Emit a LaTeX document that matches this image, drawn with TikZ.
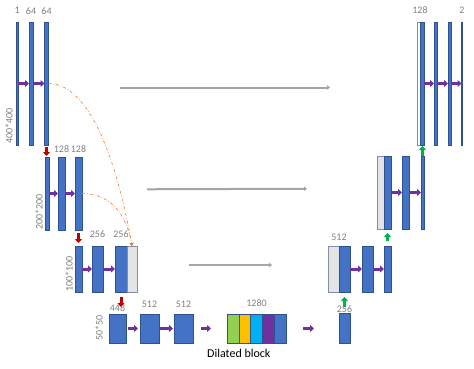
\documentclass[tikz,border=0pt]{standalone}
\usepackage{fontspec}
\setmainfont{Carlito}
\usetikzlibrary{arrows.meta,positioning}
\definecolor{barblue}{HTML}{4472C4}
\definecolor{barline}{HTML}{2F528F}
\definecolor{skipfill}{HTML}{E4E4E4}
\definecolor{skipline}{HTML}{7F8FA9}
\definecolor{convpurple}{HTML}{7030A0}
\definecolor{poolred}{HTML}{C00000}
\definecolor{upgreen}{HTML}{00B050}
\definecolor{copygray}{HTML}{A5A5A5}
\definecolor{cropor}{HTML}{ED7D31}
\definecolor{numgray}{HTML}{7F7F7F}
\definecolor{dlgreen}{HTML}{92D050}
\definecolor{dlyellow}{HTML}{FFC000}
\definecolor{dlcyan}{HTML}{00B0F0}
\begin{document}
\begin{tikzpicture}[
        x=1pt, y=1pt,
        bar/.style={draw=barline, fill=barblue, line width=0.5pt, anchor=south west, inner sep=0pt, outer sep=0pt},
        skipbar/.style={bar, draw=skipline, fill=skipfill},
        h1/.style={minimum height=123pt},
        h2/.style={minimum height=73pt},
        h3/.style={minimum height=46pt},
        h4/.style={minimum height=29pt},
        numlbl/.style={text=numgray, font=\fontsize{10}{10}\selectfont, inner sep=0pt},
        sizelbl/.style={numlbl, rotate=90, anchor=south west},
        convarr/.style={convpurple, line width=3pt, -{Triangle[length=4pt, width=7pt]}},
        poolarr/.style={poolred, line width=3pt, -{Triangle[length=4pt, width=7pt]}},
        uparr/.style={upgreen, line width=3pt, -{Triangle[length=4pt, width=7pt]}},
        copyarr/.style={copygray, line width=2pt, -{Triangle[length=3pt, width=4.5pt]}},
        croparr/.style={cropor, line width=0.6pt, dash dot, -{Triangle[length=3pt, width=4pt]}}
    ]
        \useasboundingbox (0,0) rectangle (474,368);

        % Nhánh mã hóa
        \node[bar, h1, minimum width=1.5pt] (e1a) at (16.5,223) {};
        \node[bar, h1, minimum width=4pt] (e1b) at (29,223) {};
        \node[bar, h1, minimum width=4pt] (e1c) at (44.5,223) {};
        \node[bar, h2, minimum width=4pt] (e2a) at (45,138) {};
        \node[bar, h2, minimum width=7pt] (e2b) at (58,138) {};
        \node[bar, h2, minimum width=7pt] (e2c) at (75,138) {};
        \node[bar, h3, minimum width=7pt] (e3a) at (75,76) {};
        \node[bar, h3, minimum width=11pt] (e3b) at (92,76) {};
        \node[bar, h3, minimum width=12pt] (e3c) at (115,76) {};
        \node[skipbar, h3, minimum width=10pt] (e3d) at (127,76) {};
        \node[bar, h4, minimum width=17pt] (e4a) at (109,25) {};
        \node[bar, h4, minimum width=19pt] (e4b) at (140,25) {};
        \node[bar, h4, minimum width=19pt] (e4c) at (174,25) {};

        % Khối giãn nở
        \node[bar, h4, fill=dlgreen, minimum width=11.8pt] (d1) at (227,25) {};
        \node[bar, h4, fill=dlyellow, minimum width=11.8pt] (d2) at (238.8,25) {};
        \node[bar, h4, fill=dlcyan, minimum width=11.8pt] (d3) at (250.6,25) {};
        \node[bar, h4, fill=convpurple, minimum width=11.8pt] (d4) at (262.4,25) {};
        \node[bar, h4, minimum width=11.8pt] (d5) at (274.2,25) {};

        % Nhánh giải mã
        \node[bar, minimum width=11pt, minimum height=30pt] (u4) at (339,25) {};
        \node[skipbar, h3, minimum width=11pt] (u3a) at (328,76) {};
        \node[bar, h3, minimum width=11pt] (u3b) at (339,76) {};
        \node[bar, h3, minimum width=11pt] (u3c) at (362,76) {};
        \node[bar, h3, minimum width=7pt] (u3d) at (384,76) {};
        \node[skipbar, h2, minimum width=7pt] (u2a) at (377,139) {};
        \node[bar, h2, minimum width=7pt] (u2b) at (384,139) {};
        \node[bar, h2, minimum width=7pt] (u2c) at (402,139) {};
        \node[bar, h2, minimum width=3pt] (u2d) at (421,139) {};
        \node[skipbar, h1, fill=white, minimum width=3pt] (u1a) at (417,223) {};
        \node[bar, h1, minimum width=4pt] (u1b) at (420,223) {};
        \node[bar, h1, minimum width=3pt] (u1c) at (434,223) {};
        \node[bar, h1, minimum width=3pt] (u1d) at (448,223) {};
        \node[bar, h1, minimum width=1pt] (u1e) at (461.5,223) {};

        % Nhãn số kênh
        \node[numlbl, above=8pt of e1a.north] (t1a) {1};
        \node[numlbl, above=7pt of e1b.north] (t1b) {64};
        \node[numlbl, above=7pt of e1c.north] (t1c) {64};
        \node[numlbl, above=4pt of e2b.north] (t2b) {128};
        \node[numlbl, above=4pt of e2c.north] (t2c) {128};
        \node[numlbl, above=8pt of e3b.north] (t3b) {256};
        \node[numlbl, above=8pt of e3c.north] (t3c) {256};
        \node[numlbl, above=2pt of e4a.north] (t4a) {448};
        \node[numlbl, above=6pt of e4b.north] (t4b) {512};
        \node[numlbl, above=6pt of e4c.north] (t4c) {512};
        \node[numlbl, above=7pt of d3.north] (tdl) {1280};
        \node[numlbl, above=0pt of u4.north] (tu4) {256};
        \node[numlbl, above=5pt of u3b.north west] (tu3) {512};
        \node[numlbl, above=8pt of u1b.north west] (tu1) {128};
        \node[numlbl, above=8pt of u1e.north] (tu1e) {2};
        \node[inner sep=0pt, font=\fontsize{12}{12}\selectfont, below=6pt of d1.south east] (dlbl) {Dilated block};

        % Nhãn kích thước
        \node[sizelbl] (s1) at ([xshift=-3.5pt, yshift=1pt]e1a.south west) {400*400};
        \node[sizelbl] (s2) at ([xshift=-2pt]e2a.south west) {200*200};
        \node[sizelbl] (s3) at ([xshift=-2pt]e3a.south west) {100*100};
        \node[sizelbl] (s4) at ([xshift=-6pt, yshift=2pt]e4a.south west) {50*50};

        % Mũi tên tích chập
        \draw[convarr] (e1a) -- (e1b);
        \draw[convarr] (e1b) -- (e1c);
        \draw[convarr] (e2a) -- (e2b);
        \draw[convarr] (e2b) -- (e2c);
        \draw[convarr] (e3a) -- (e3b);
        \draw[convarr] (e3b) -- (e3c);
        \draw[convarr, shorten <=2pt, shorten >=2pt] (e4a) -- (e4b);
        \draw[convarr, shorten <=1pt, shorten >=1pt] (e4b) -- (e4c);
        \draw[convarr, shorten <=8pt, shorten >=16pt] (e4c) -- (d1);
        \draw[convarr, shorten <=17pt, shorten >=25pt] (d5.east) -- (d5.east -| u4.west);
        \draw[convarr] (u3b) -- (u3c);
        \draw[convarr] (u3c) -- (u3d);
        \draw[convarr] (u2b) -- (u2c);
        \draw[convarr] (u2c) -- (u2d);
        \draw[convarr] (u1b) -- (u1c);
        \draw[convarr] (u1c) -- (u1d);
        \draw[convarr] (u1d) -- (u1e);

        % Lấy mẫu xuống và lên
        \draw[poolarr, shorten <=2pt, shorten >=1pt] (e1c.south) -- (e1c.south |- e2a.north);
        \draw[poolarr, shorten <=3pt, shorten >=3pt] (e2c.south) -- (e2c.south |- e3a.north);
        \draw[poolarr, shorten <=5pt, shorten >=7pt] (e3c.south) -- (e3c.south |- e4a.north);
        \draw[uparr, shorten <=6pt, shorten >=5pt] (u4.north) -- (u4.north |- u3b.south);
        \draw[uparr, shorten <=5pt, shorten >=4pt] (u3d.north) -- (u3d.north |- u2b.south);
        \draw[uparr, shorten <=0pt, shorten >=1pt] (u2d.north) -- (u2d.north |- u1b.south);

        % Kết nối tắt
        \draw[copyarr, shorten <=71.5pt, shorten >=87pt] ([yshift=-4pt]e1c.east) -- ([yshift=-4pt]u1a.west);
        \draw[copyarr, shorten <=65pt, shorten >=70pt] ([yshift=4pt]e2c.east) -- ([yshift=4pt]u2a.west);
        \draw[copyarr, shorten <=52pt, shorten >=56pt] ([yshift=4pt]e3d.east) -- ([yshift=4pt]u3a.west);
        \draw[croparr] (e1c.east) to[out=0, in=100, out distance=40pt, in distance=90pt] (e3d.north);
        \draw[croparr] (e2c.east) to[out=0, in=100, out distance=30pt, in distance=30pt] (e3d.north);
    \end{tikzpicture}
\end{document}
